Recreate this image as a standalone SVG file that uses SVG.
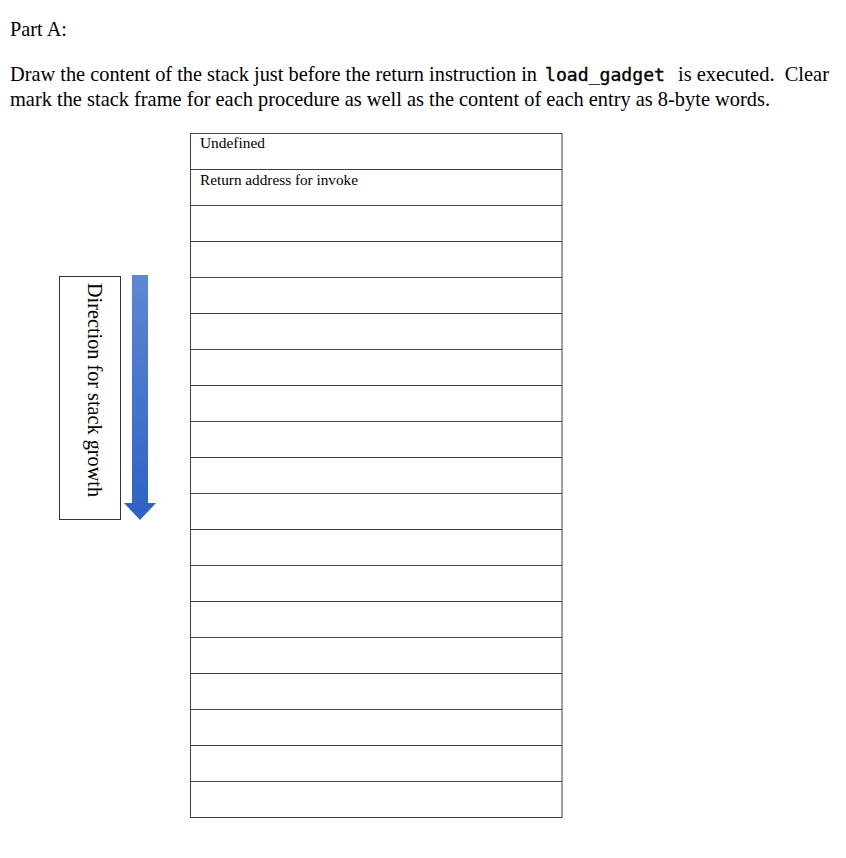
<svg xmlns="http://www.w3.org/2000/svg" width="846" height="858" viewBox="0 0 846 858">
<style>
.t{font-family:"Liberation Serif","Times New Roman",serif;fill:#000}
.big{font-size:20.3px}
.mono{font-family:"DejaVu Sans Mono","Liberation Mono",monospace;font-size:18.5px;fill:#000;stroke:#000;stroke-width:0.35}
.cell{font-size:15.3px}
.grid{stroke:#404040;stroke-width:1;fill:none}
</style>
<defs>
<linearGradient id="g" x1="0" y1="0" x2="0" y2="1">
<stop offset="0" stop-color="#5f87d3"/>
<stop offset="1" stop-color="#2c62c4"/>
</linearGradient>
</defs>
<rect width="846" height="858" fill="#fff"/>
<g id="header">
<text class="t big" x="10" y="36" textLength="57" lengthAdjust="spacingAndGlyphs">Part A:</text>
<text class="t big" x="10" y="81" textLength="527" lengthAdjust="spacingAndGlyphs">Draw the content of the stack just before the return instruction in</text>
<text class="mono" x="545" y="81" textLength="120" lengthAdjust="spacingAndGlyphs">load_gadget</text>
<text class="t big" x="678" y="81" textLength="151" lengthAdjust="spacingAndGlyphs" xml:space="preserve">is executed.  Clear</text>
<text class="t big" x="10" y="106" textLength="760" lengthAdjust="spacingAndGlyphs">mark the stack frame for each procedure as well as the content of each entry as 8-byte words.</text>
</g>
<g id="stack">
<rect class="grid" x="190.5" y="133.5" width="371.5" height="684"/>
<line x1="562.5" y1="134" x2="562.5" y2="818" stroke="#999" stroke-width="1"/>
<path class="grid" d="M190.5 169.5H562 M190.5 205.5H562 M190.5 241.5H562 M190.5 277.5H562 M190.5 313.5H562 M190.5 349.5H562 M190.5 385.5H562 M190.5 421.5H562 M190.5 457.5H562 M190.5 493.5H562 M190.5 529.5H562 M190.5 565.5H562 M190.5 601.5H562 M190.5 637.5H562 M190.5 673.5H562 M190.5 709.5H562 M190.5 745.5H562 M190.5 781.5H562"/>
<text class="t cell" x="200" y="148" textLength="65" lengthAdjust="spacingAndGlyphs">Undefined</text>
<text class="t cell" x="200" y="185" textLength="158" lengthAdjust="spacingAndGlyphs">Return address for invoke</text>
</g>
<g id="direction-label">
<rect x="59.5" y="276.5" width="61" height="243" fill="#fff" stroke="#333" stroke-width="1"/>
<text class="t big" transform="translate(88,283) rotate(90)" textLength="214" lengthAdjust="spacingAndGlyphs">Direction for stack growth</text>
</g>
<g id="direction-arrow">
<path d="M132 275H148V503H156L140 520L124 503H132Z" fill="url(#g)"/>
</g>
</svg>
